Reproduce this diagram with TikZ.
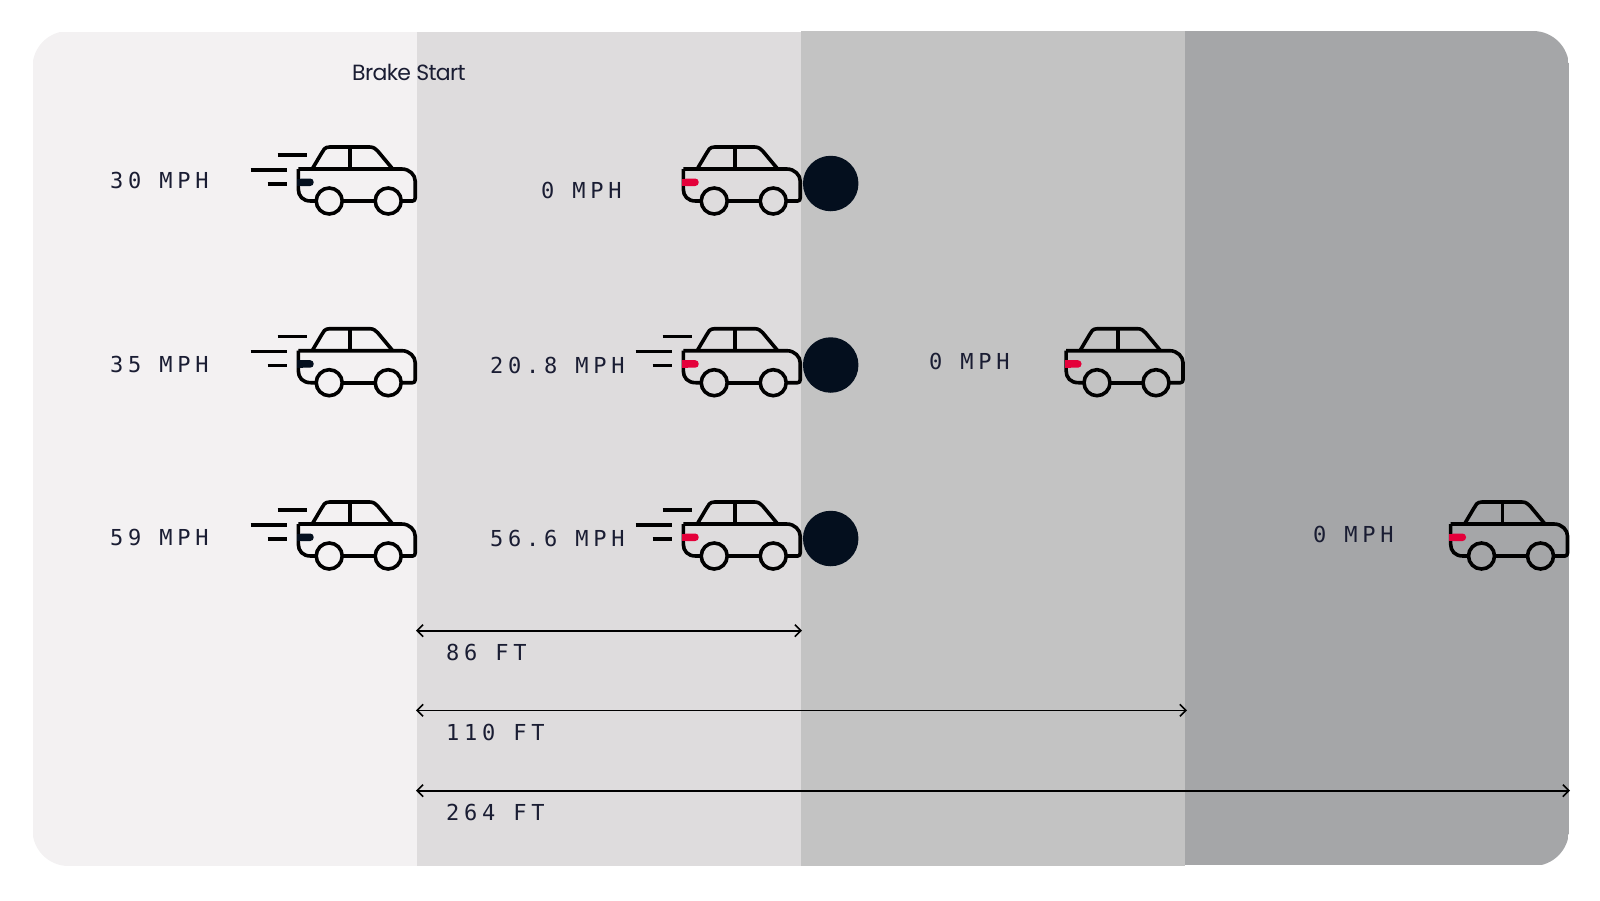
\documentclass[tikz,border=0pt]{standalone}
\usepackage{fontspec}
\setmainfont{Poppins}[LetterSpace=-3]
\newfontfamily\labfont[LetterSpace=21.5]{DejaVu Sans Mono}
\usetikzlibrary{arrows.meta}
\definecolor{ink}{HTML}{1A1D33}
\definecolor{navy}{HTML}{040F1E}
\definecolor{brakered}{HTML}{E4003A}
\definecolor{zoneA}{HTML}{F3F1F2}
\definecolor{zoneB}{HTML}{DEDCDD}
\definecolor{zoneC}{HTML}{C3C3C3}
\definecolor{zoneD}{HTML}{A5A6A8}
\tikzset{
  x=1pt,y=-1pt,
  monolabel/.style={font=\labfont\fontsize{22}{26}\selectfont,text=ink,inner sep=0pt,anchor=base west,yshift=-0.6pt},
  span/.style={draw=black,line width=1.6pt,{Straight Barb[length=6pt,width=12pt,line width=1.6pt]}-{Straight Barb[length=6pt,width=12pt,line width=1.6pt]}},
  carline/.style={draw=black,line width=3.6pt,line join=round},
  wheel/.style={draw=black,line width=3.6pt},
  pics/car/.style={code={
    \draw[carline] (0.6,0) -- (0.6,20) .. controls (0.6,27) and (5,32) .. (13,32) -- (19,32);
    \draw[carline] (0.6,0) -- (104,0) .. controls (112,0) and (117.5,6) .. (117.5,12) -- (117.5,29) .. controls (117.5,31) and (116.5,32) .. (115,32) -- (104,32);
    \draw[carline] (44,32) -- (79,32);
    \draw[carline] (14.5,0) -- (24,-16) .. controls (25.5,-19) and (27,-22) .. (32,-22) -- (72,-22) .. controls (76,-22) and (78,-20) .. (80,-18) -- (95,0);
    \draw[carline] (52.5,-22) -- (52.5,0);
    \draw[wheel] (31.5,32) circle (13);
    \draw[wheel] (90.5,32) circle (13);
    \fill[#1,rounded corners=3.5pt] (0,9.5) -- (16,9.5) -- (16,17) -- (0,17) -- cycle;
    \fill[#1] (-1,9.5) rectangle (5,17);
  }},
  pics/speedlines/.style={code={
    \draw[black,line width=3.4pt] (-20,-14) -- (9,-14);
    \draw[black,line width=3.4pt] (-47,1) -- (-11,1);
    \draw[black,line width=3.4pt] (-30,15) -- (-11,15);
  }},
  stopdot/.style={circle,fill=navy,minimum size=55.5pt,inner sep=0pt},
}
\begin{document}
\begin{tikzpicture}
\useasboundingbox (0,0) rectangle (1600,900);
\begin{scope}
  \clip[rounded corners=36pt] (32.5,31) rectangle (1569,866);
  \fill[zoneA] (32.5,31.7) rectangle (416.5,866);
  \fill[zoneB] (416.5,31.7) rectangle (801,866);
  \fill[zoneC] (801,31.3) rectangle (1185,865.5);
  \fill[zoneD] (1185,31) rectangle (1569,865);
\end{scope}
\node[font=\fontsize{22}{26}\selectfont,text=ink,inner sep=0pt,anchor=base west] (brake) at (352,80) {Brake Start};
% dots
\node[stopdot] (d1) at (830.7,183.5) {};
\node[stopdot] (d2) at (830.7,365) {};
\node[stopdot] (d3) at (830.7,538.5) {};
% cars
\pic at (297.7,169) {speedlines};
\pic at (297.7,169) {car=navy};
\pic at (297.7,350.7) {speedlines};
\pic at (297.7,350.7) {car=navy};
\pic at (297.7,524) {speedlines};
\pic at (297.7,524) {car=navy};
\pic at (682.7,169) {car=brakered};
\pic at (682.7,350.7) {speedlines};
\pic at (682.7,350.7) {car=brakered};
\pic at (682.7,524) {speedlines};
\pic at (682.7,524) {car=brakered};
\pic at (1065.5,350.7) {car=brakered};
\pic at (1450,524) {car=brakered};
% labels
\node[monolabel] (s1) at (110,188) {30 MPH};
\node[monolabel] (s2) at (110,372) {35 MPH};
\node[monolabel] (s3) at (110,545) {59 MPH};
\node[monolabel] (s4) at (541,198) {0 MPH};
\node[monolabel] (s5) at (490,373) {20.8 MPH};
\node[monolabel] (s6) at (490,546) {56.6 MPH};
\node[monolabel] (s7) at (929,369) {0 MPH};
\node[monolabel] (s8) at (1313,542) {0 MPH};
\node[monolabel] (f1) at (446,660) {86 FT};
\node[monolabel] (f2) at (446,740) {110 FT};
\node[monolabel] (f3) at (446,820) {264 FT};
% spans
\coordinate (a0) at (416,630.7); \coordinate (a1) at (802,630.7);
\coordinate (b0) at (416,710.3); \coordinate (b1) at (1187,710.3);
\coordinate (c0) at (416,790.7); \coordinate (c1) at (1570,790.7);
\draw[span] (a0) -- (a1);
\draw[span] (b0) -- (b1);
\draw[span] (c0) -- (c1);
\end{tikzpicture}
\end{document}
